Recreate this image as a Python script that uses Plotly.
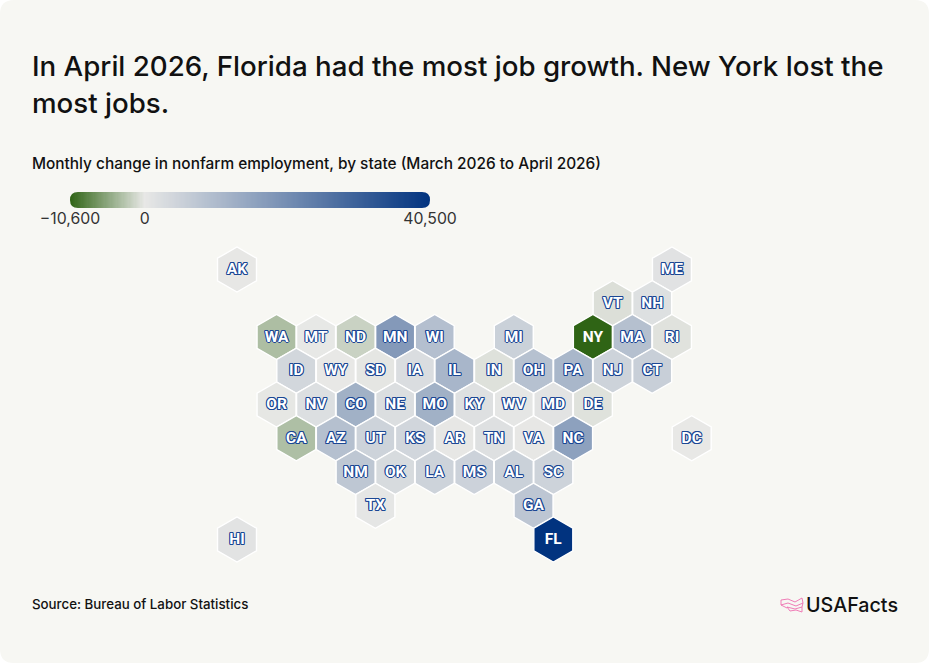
import numpy as np
import plotly.graph_objects as go

W, H = 929, 663
BG = "#f7f7f3"
INK = "#111111"

# Tile grid: each state's row and half-column position
states = ["AK","ME","VT","NH","WA","MT","ND","MN","WI","MI","NY","MA","RI",
          "ID","WY","SD","IA","IL","IN","OH","PA","NJ","CT",
          "OR","NV","CO","NE","MO","KY","WV","MD","DE",
          "CA","AZ","UT","KS","AR","TN","VA","NC","DC",
          "NM","OK","LA","MS","AL","SC","TX","GA","HI","FL"]
cols = [0,22,19,21,2,4,6,8,10,14,18,20,22,
        3,5,7,9,11,13,15,17,19,21,
        2,4,6,8,10,12,14,16,18,
        3,5,7,9,11,13,15,17,23,
        6,8,10,12,14,16,7,15,0,16]
rows = [0,0,1,1,2,2,2,2,2,2,2,2,2,
        3,3,3,3,3,3,3,3,3,3,
        4,4,4,4,4,4,4,4,4,
        5,5,5,5,5,5,5,5,5,
        6,6,6,6,6,6,7,7,8,8]
# Monthly change in nonfarm jobs
change = [200,1300,-700,1900,-3400,100,-1800,17600,9200,5200,-10600,8900,-450,
          3800,50,-150,2500,11200,-550,8800,11000,4700,5600,
          -100,2100,12400,2300,12400,1800,500,1100,-500,
          -3300,9000,4700,4000,200,1800,200,15900,50,
          7400,3000,4700,4900,5200,4700,500,7500,1100,40500]

vmin, vmax = -10600, 40500
zero = (0 - vmin) / (vmax - vmin)
scale = [[0, "#2f6415"], [zero, "#e8e8e6"], [1, "#01337f"]]
legend_ticks = [-10600, 0, 40500]
legend_labels = ["\u221210,600", "0", "40,500"]

COL_PX, ROW_PX, X0, Y0 = 19.77, 33.75, 237, 269.5
LABEL_DROP = 0.02
OUTLINE = "#1b4794"
halo = ", ".join(f"{dx}px {dy}px 0 {OUTLINE}"
                 for dx, dy in [(-1, 0), (1, 0), (0, -1), (0, 1),
                                (-.8, -.8), (.8, -.8), (-.8, .8), (.8, .8)])

plain = [s in ("NY", "FL") for s in states]
fig = go.Figure()

fig.add_trace(go.Scatter(
    x=cols, y=rows, mode="markers", hoverinfo="text",
    text=[f"{s}: {v:,}" for s, v in zip(states, change)],
    marker=dict(symbol="hexagon", size=45, color=change, cmin=vmin, cmax=vmax,
                colorscale=scale, line=dict(color="#ffffff", width=1.4)),
    showlegend=False))

def label_trace(flag, shadow):
    idx = [i for i, p in enumerate(plain) if p == flag]
    return go.Scatter(
        x=[cols[i] for i in idx], y=[rows[i] + LABEL_DROP for i in idx],
        text=[states[i] for i in idx], mode="text", hoverinfo="skip",
        textposition="middle center", showlegend=False,
        textfont=dict(family="Roboto", size=15.5, weight=700, color="#ffffff", shadow=shadow))

fig.add_trace(label_trace(False, halo))
fig.add_trace(label_trace(True, "none"))

# Gradient ramp for the legend, on its own axes
ramp = np.linspace(vmin, vmax, 300)
fig.add_trace(go.Heatmap(
    x=ramp, y=[0], z=[ramp], xaxis="x2", yaxis="y2", zmin=vmin, zmax=vmax,
    colorscale=scale, showscale=False, hoverinfo="skip"))

fig.update_layout(
    width=W, height=H, margin=dict(l=0, r=0, t=0, b=0, autoexpand=False),
    paper_bgcolor="#ffffff", plot_bgcolor="rgba(0,0,0,0)",
    xaxis=dict(range=[-X0 / COL_PX, (W - X0) / COL_PX], visible=False, domain=[0, 1]),
    yaxis=dict(range=[(H - Y0) / ROW_PX, -Y0 / ROW_PX], visible=False, domain=[0, 1]),
    xaxis2=dict(range=[vmin, vmax], domain=[70 / W, 430 / W], anchor="y2", showgrid=False,
                zeroline=False, showline=False, ticks="", tickvals=legend_ticks,
                ticktext=legend_labels, ticklabelstandoff=-1,
                tickfont=dict(family="Inter", size=15.8, color="#333333")),
    yaxis2=dict(range=[-0.5, 0.5], domain=[1 - 208 / H, 1 - 192 / H], anchor="x2", visible=False),
)

def note(x, y, s, size, weight=400, color=INK, xanchor="left", family="Inter"):
    fig.add_annotation(x=x / W, y=1 - y / H, xref="paper", yref="paper", text=s, showarrow=False,
                       xanchor=xanchor, yanchor="middle", align="left",
                       font=dict(family=family, size=size, weight=weight, color=color))

note(30, 66, "In April 2026, Florida had the most job growth. New York lost the", 27.7, 500)
note(30, 103, "most jobs.", 27.7, 500)
note(30, 163, "Monthly change in nonfarm employment, by state (March 2026 to April 2026)", 15.4, 500)
note(30, 604, "Source: Bureau of Labor Statistics", 13.3, 500)
note(804, 605, "USAFacts", 19.7, 500)

# The main axes span the whole page, so page pixels convert directly to axis units
def to_axes(path_pts):
    out = []
    for cmd, pts in path_pts:
        coords = " ".join(f"{(x - X0) / COL_PX:.4f},{(y - Y0) / ROW_PX:.4f}" for x, y in pts)
        out.append(f"{cmd}{coords}")
    return " ".join(out)

def round_rect(x0, y0, x1, y1, r):
    return [("M", [(x0 + r, y0)]), ("L", [(x1 - r, y0)]), ("Q", [(x1, y0), (x1, y0 + r)]),
            ("L", [(x1, y1 - r)]), ("Q", [(x1, y1), (x1 - r, y1)]), ("L", [(x0 + r, y1)]),
            ("Q", [(x0, y1), (x0, y1 - r)]), ("L", [(x0, y0 + r)]), ("Q", [(x0, y0), (x0 + r, y0)])]

shapes = [dict(type="path", xref="x", yref="y", layer="below", line_width=0, fillcolor=BG,
               path=to_axes(round_rect(0, 0, W, H, 14)) + " Z")]

# Background-coloured corner masks round off the ends of the legend ramp
R = 8
for (cx, cy, sx, sy) in [(70, 192, 1, 1), (70, 208, 1, -1), (430, 192, -1, 1), (430, 208, -1, -1)]:
    pts = [("M", [(cx, cy)]), ("L", [(cx + sx * R, cy)]),
           ("Q", [(cx, cy), (cx, cy + sy * R)])]
    shapes.append(dict(type="path", xref="x", yref="y", layer="above", line_width=0,
                       fillcolor=BG, path=to_axes(pts) + " Z"))

# Small map-like outline next to the wordmark
PINK = "#ee6fb0"
def polyline(points):
    return [("M", [points[0]])] + [("L", [p]) for p in points[1:]]

for points in [
    [(781, 600), (788, 599), (795, 602), (802, 598), (803, 603), (796, 606), (788, 603), (781, 605)],
    [(781, 600), (781, 605), (787, 608)],
    [(787, 607), (795, 609), (802, 607), (803, 603)],
    [(787, 607), (790, 611), (796, 610), (802, 612), (802, 607)],
]:
    shapes.append(dict(type="path", xref="x", yref="y", layer="above",
                       line=dict(color=PINK, width=0.9), path=to_axes(polyline(points))))

fig.update_layout(shapes=shapes)
fig.write_html("out.html", config=dict(displayModeBar=False))
